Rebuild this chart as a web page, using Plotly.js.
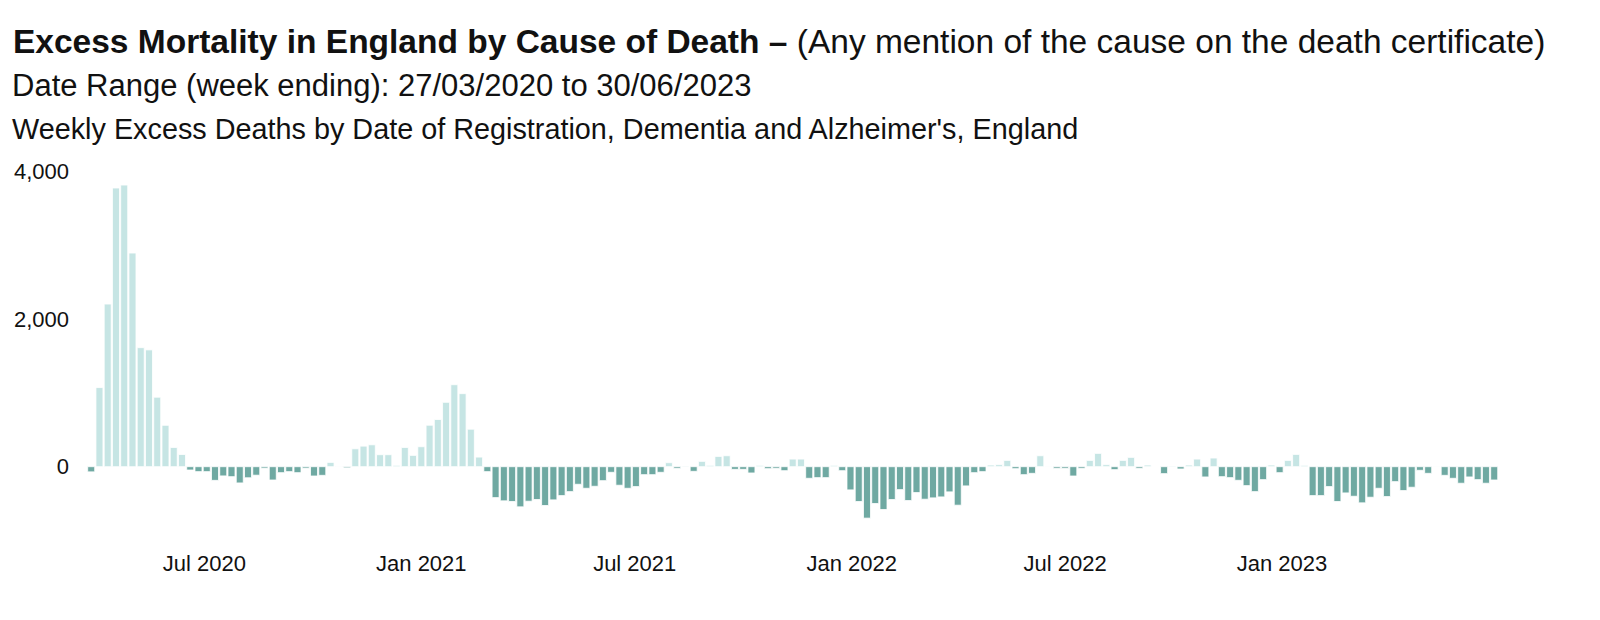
<!DOCTYPE html>
<html>
<head>
<meta charset="utf-8">
<script src="https://cdn.plot.ly/plotly-3.0.1.min.js"></script>
<style>
  html, body { margin: 0; padding: 0; background: #ffffff; }
  #chart { width: 1600px; height: 620px; }
</style>
</head>
<body>
<div id="chart"></div>
<script>
// Weekly series: first week ending date and number of weeks
const firstWeekEnding = '2020-03-27';
const weekCount = 171;

// Weekly excess deaths, Dementia and Alzheimer's, England (registrations)
const excessDeaths = [
  -70, 1070, 2200, 3770, 3810, 2890, 1610, 1580, 940, 560,
  260, 165, -45, -67, -67, -185, -125, -135, -220, -150,
  -115, -20, -180, -81, -67, -81, -20, -126, -117, 58,
  5, -15, 242, 278, 296, 162, 162, 18, 260, 153,
  270, 561, 638, 871, 1109, 988, 507, 130, -67, -418,
  -462, -471, -543, -467, -444, -525, -449, -391, -337, -238,
  -292, -265, -189, -76, -251, -292, -269, -108, -108, -76,
  54, -22, 9, -63, 72, 18, 139, 148, -36, -36,
  -85, 18, -27, -22, -54, 103, 103, -157, -148, -148,
  18, -54, -314, -471, -696, -498, -579, -444, -310, -458,
  -350, -440, -422, -409, -341, -521, -260, -81, -67, 22,
  27, 85, -27, -108, -90, 148, 5, -22, -22, -126,
  -22, 85, 180, 27, -40, 85, 126, -22, 22, 0,
  -94, 9, -31, 22, 103, -139, 117, -135, -148, -184,
  -256, -337, -175, 22, -81, 85, 166, 18, -391, -391,
  -269, -471, -355, -400, -489, -413, -292, -404, -202, -323,
  -278, -49, -90, 5, -117, -157, -224, -139, -175, -224,
  -180
];

// Axis ticks
const xTickDates = ['2020-07-01', '2021-01-01', '2021-07-01', '2022-01-01', '2022-07-01', '2023-01-01'];
const xTickLabels = ['Jul 2020', 'Jan 2021', 'Jul 2021', 'Jan 2022', 'Jul 2022', 'Jan 2023'];
const yTickValues = [0, 2000, 4000];
const yTickLabels = ['0', '2,000', '4,000'];

// Heading texts
const headingBold = 'Excess Mortality in England by Cause of Death \u2013';
const headingRest = ' (Any mention of the cause on the death certificate)';
const dateRangeText = 'Date Range (week ending): 27/03/2020 to 30/06/2023';
const chartSubtitle = "Weekly Excess Deaths by Date of Registration, Dementia and Alzheimer's, England";

// Week-ending dates for each bar
function weekEndingDates(start, n) {
  const out = [];
  const d0 = new Date(start + 'T00:00:00Z');
  for (let i = 0; i < n; i++) {
    const d = new Date(d0.getTime() + i * 7 * 86400000);
    out.push(d.toISOString().slice(0, 10));
  }
  return out;
}
const weeks = weekEndingDates(firstWeekEnding, weekCount);

const POS_COLOR = '#c6e5e4';
const NEG_COLOR = '#6fa9a2';
const barColors = excessDeaths.map(v => (v >= 0 ? POS_COLOR : NEG_COLOR));

const FONT = '"Liberation Sans", Arial, Helvetica, sans-serif';

const trace = {
  type: 'bar',
  x: weeks,
  y: excessDeaths,
  marker: { color: barColors, line: { color: '#ffffff', width: 0.8 } },
  hoverinfo: 'skip'
};

const plotLeft = 80, plotTop = 171, plotW = 1426, plotH = 377;
const px2paperX = px => (px - plotLeft) / plotW;
const px2paperY = py => (plotTop + plotH - py) / plotH;

const layout = {
  width: 1600,
  height: 620,
  margin: { l: plotLeft, r: 1600 - plotLeft - plotW, t: plotTop, b: 620 - plotTop - plotH, pad: 0 },
  paper_bgcolor: '#ffffff',
  plot_bgcolor: '#ffffff',
  showlegend: false,
  bargap: 0.15,
  font: { family: FONT, color: '#111111' },
  title: {
    text: '<b>' + headingBold + '</b>' + headingRest,
    font: { family: FONT, size: 33.5, color: '#111111' },
    xref: 'container', yref: 'container',
    x: 13 / 1600, xanchor: 'left',
    y: 1 - 41 / 620, yanchor: 'middle'
  },
  annotations: [
    {
      text: dateRangeText,
      xref: 'paper', yref: 'paper',
      x: px2paperX(10), y: px2paperY(85),
      xanchor: 'left', yanchor: 'middle',
      showarrow: false,
      font: { family: FONT, size: 31, color: '#111111' }
    },
    {
      text: chartSubtitle,
      xref: 'paper', yref: 'paper',
      x: px2paperX(10), y: px2paperY(129),
      xanchor: 'left', yanchor: 'middle',
      showarrow: false,
      font: { family: FONT, size: 28.8, color: '#111111' }
    }
  ],
  xaxis: {
    type: 'date',
    range: ['2020-03-17 12:00', '2023-07-10'],
    tickmode: 'array',
    tickvals: xTickDates,
    ticktext: xTickLabels,
    showgrid: false,
    zeroline: false,
    showline: false,
    ticks: '',
    tickfont: { family: FONT, size: 22, color: '#111111' }
  },
  yaxis: {
    range: [-1100, 4000],
    tickmode: 'array',
    tickvals: yTickValues,
    ticktext: yTickLabels,
    showgrid: false,
    zeroline: false,
    showline: false,
    ticks: '',
    ticklabelstandoff: 10,
    tickfont: { family: FONT, size: 22, color: '#111111' }
  }
};

Plotly.newPlot('chart', [trace], layout, { staticPlot: true, displayModeBar: false });
</script>
</body>
</html>
